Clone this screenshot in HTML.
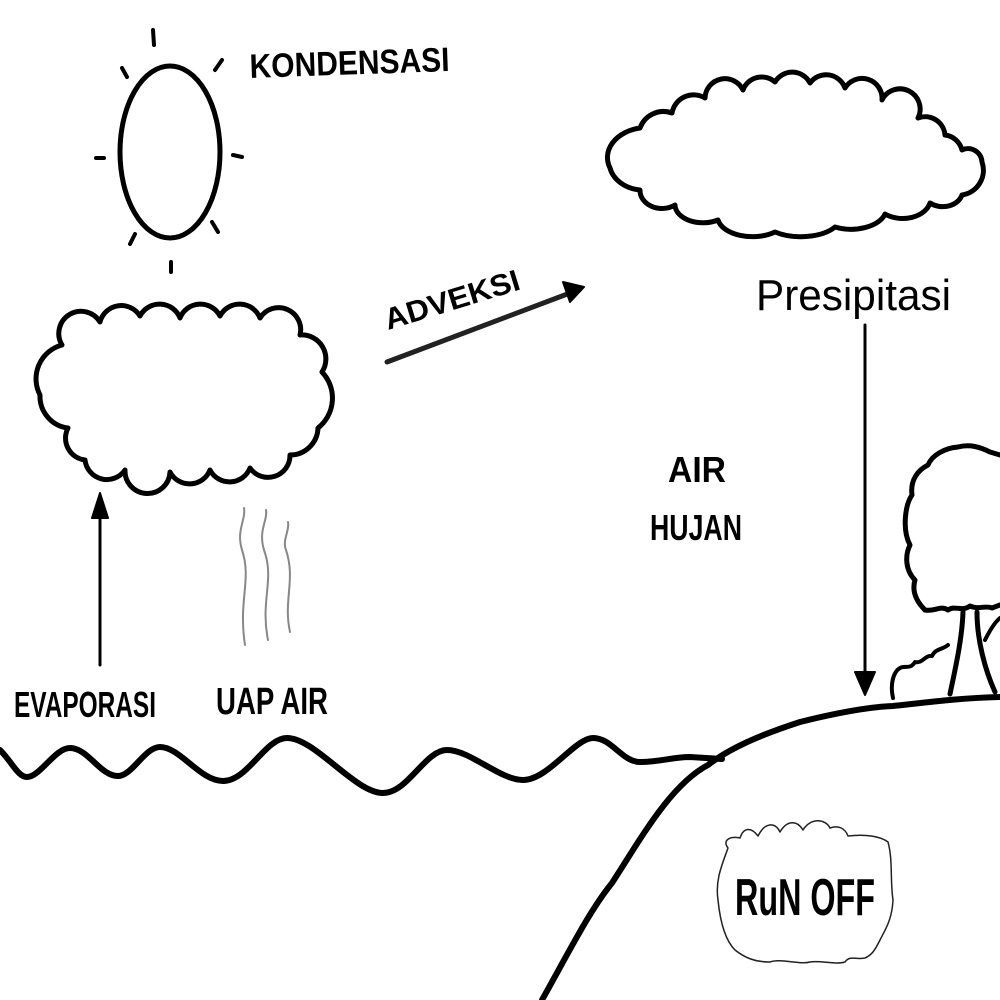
<!DOCTYPE html>
<html><head><meta charset="utf-8"><style>
html,body{margin:0;padding:0;background:#fff;}
svg{display:block;}
text{font-family:"Liberation Sans",sans-serif;fill:#000;}
</style></head><body>
<svg width="1000" height="1000" viewBox="0 0 1000 1000" xmlns="http://www.w3.org/2000/svg">
<rect width="1000" height="1000" fill="#fff"/>
<g fill="none" stroke="#000" stroke-linecap="round" stroke-linejoin="round">
<ellipse cx="170" cy="152" rx="50" ry="86" stroke-width="5"/>
<g stroke-width="4">
<line x1="153" y1="30" x2="154" y2="45"/>
<line x1="122" y1="68" x2="127" y2="77"/>
<line x1="222" y1="60" x2="215" y2="70"/>
<line x1="96" y1="158" x2="104" y2="158"/>
<line x1="233" y1="155" x2="242" y2="157"/>
<line x1="135" y1="234" x2="130" y2="244"/>
<line x1="212" y1="222" x2="218" y2="232"/>
<line x1="171" y1="262" x2="171" y2="272"/>
</g>
<path stroke-width="5" d="M40,395 A35,35 0 0 1 62,345 A22,22 0 0 1 100,322 A22 22 0 0 1 140,316 A22 22 0 0 1 180,318 A22 22 0 0 1 220,316 A22 22 0 0 1 260,318 A22 22 0 0 1 300,335 A24 24 0 0 1 322,372 A38 38 0 0 1 318,428 A28 28 0 0 1 290,455 A22 22 0 0 1 250,468 A22 22 0 0 1 210,470 A22 22 0 0 1 170,472 A22 22 0 0 1 125,470 A22 22 0 0 1 85,460 A22 22 0 0 1 68,428 A32 32 0 0 1 40,395 Z"/>
<path stroke-width="5" d="M610,168 A40,30 0 0 1 640,128 A25 25 0 0 1 672,113 A22 22 0 0 1 705,98 A20 20 0 0 1 743,90 A20 20 0 0 1 775,82 A20 20 0 0 1 810,83 A20 20 0 0 1 845,88 A20 20 0 0 1 882,100 A20 20 0 0 1 918,118 A20 20 0 0 1 945,135 A20 20 0 0 1 962,150 A14 14 0 0 1 982,162 A25 25 0 0 1 962,195 A20 16 0 0 1 930,203 A28 20 0 0 1 885,214 A35 20 0 0 1 835,227 A40 20 0 0 1 775,232 A35 20 0 0 1 718,220 A28 18 0 0 1 675,205 A22 18 0 0 1 640,190 A35 28 0 0 1 610,168 Z"/>
<line x1="387" y1="362" x2="570" y2="293" stroke-width="5" stroke="#222"/>
<polygon points="584,287 563,282 570,302" fill="#000" stroke-width="2"/>
<line x1="865" y1="325" x2="865" y2="680" stroke-width="3"/>
<polygon points="855,672 875,672 865,695" fill="#000" stroke-width="2"/>
<line x1="100" y1="665" x2="100" y2="510" stroke-width="3"/>
<polygon points="92,518 108,518 100,493" fill="#000" stroke-width="2"/>
<g stroke="#888" stroke-width="2">
<path d="M245,645 C238,600 252,580 242,550 C236,530 246,520 244,508"/>
<path d="M268,640 C260,600 275,580 264,550 C258,530 268,520 266,510"/>
<path d="M290,632 C283,600 296,580 286,550 C282,540 290,530 288,522"/>
</g>
<path stroke-width="6" d="M0,750 C12,762 18,777 27,777 C40,777 55,748 70,748 C88,748 100,776 118,776 C132,776 145,747 160,747 C180,747 200,781 223,781 C248,781 265,738 287,738 C315,738 355,793 383,793 C408,793 425,750 447,750 C470,750 500,780 523,780 C548,780 575,738 593,738 C612,738 622,762 640,762 C660,762 672,757 690,757 L722,759"/>
<path stroke-width="6" d="M542,1000 C570,950 590,910 612,883 C640,840 670,785 708,765 C730,748 760,735 800,722 C840,712 870,707 893,706 C930,702 960,698 1000,697"/>
<path stroke-width="5" d="M925,610 C915,600 912,590 915,580 C905,570 905,555 910,545 C902,530 905,505 912,495 C910,480 918,470 928,465 C932,455 945,448 958,447 C970,444 980,447 990,452 L1000,455"/>
<path stroke-width="5" d="M925,610 C935,612 940,605 948,610 C955,605 962,612 970,606 C978,610 985,605 992,608 L1000,605"/>
<path stroke-width="5" d="M963,612 C962,640 955,670 950,694"/>
<path stroke-width="5" d="M977,612 C977,640 985,670 995,692"/>
<path stroke-width="4" d="M985,640 C990,630 995,622 1000,618"/>
<path stroke-width="4" d="M893,698 C890,685 893,672 900,668 C905,665 910,670 915,662 C922,664 925,655 932,656 C936,648 942,650 948,645"/>
<path stroke-width="1.5" stroke="#222" d="M728,848 C722,840 730,836 740,838 C744,826 752,828 758,836 C765,822 775,822 780,832 C787,820 797,820 803,830 C810,818 825,818 830,828 C838,825 845,828 848,836 C865,834 880,836 888,842 C893,860 890,880 893,900 C892,920 885,930 880,940 C875,950 872,955 865,958 C855,960 850,955 845,962 C835,965 820,960 810,962 C800,965 780,958 770,962 C755,962 745,958 735,950 C725,940 720,920 718,900 C715,880 722,865 728,848 Z"/>
</g>
<text x="250" y="78" font-size="34" font-weight="bold" transform="rotate(-2 250 78)" textLength="200" lengthAdjust="spacingAndGlyphs">KONDENSASI</text>
<text x="388" y="330" font-size="30" font-weight="bold" transform="rotate(-17 388 330)" textLength="140" lengthAdjust="spacingAndGlyphs">ADVEKSI</text>
<text x="756" y="310" font-size="44" textLength="195" lengthAdjust="spacingAndGlyphs">Presipitasi</text>
<text x="668" y="482" font-size="36" font-weight="bold" textLength="58" lengthAdjust="spacingAndGlyphs">AIR</text>
<text x="650" y="540" font-size="36" font-weight="bold" textLength="92" lengthAdjust="spacingAndGlyphs">HUJAN</text>
<text x="14" y="717" font-size="36" font-weight="bold" textLength="142" lengthAdjust="spacingAndGlyphs">EVAPORASI</text>
<text x="216" y="714" font-size="38" font-weight="bold" textLength="112" lengthAdjust="spacingAndGlyphs">UAP AIR</text>
<text x="735" y="915" font-size="52" font-weight="bold" textLength="140" lengthAdjust="spacingAndGlyphs">RuN OFF</text>
</svg>
</body></html>
